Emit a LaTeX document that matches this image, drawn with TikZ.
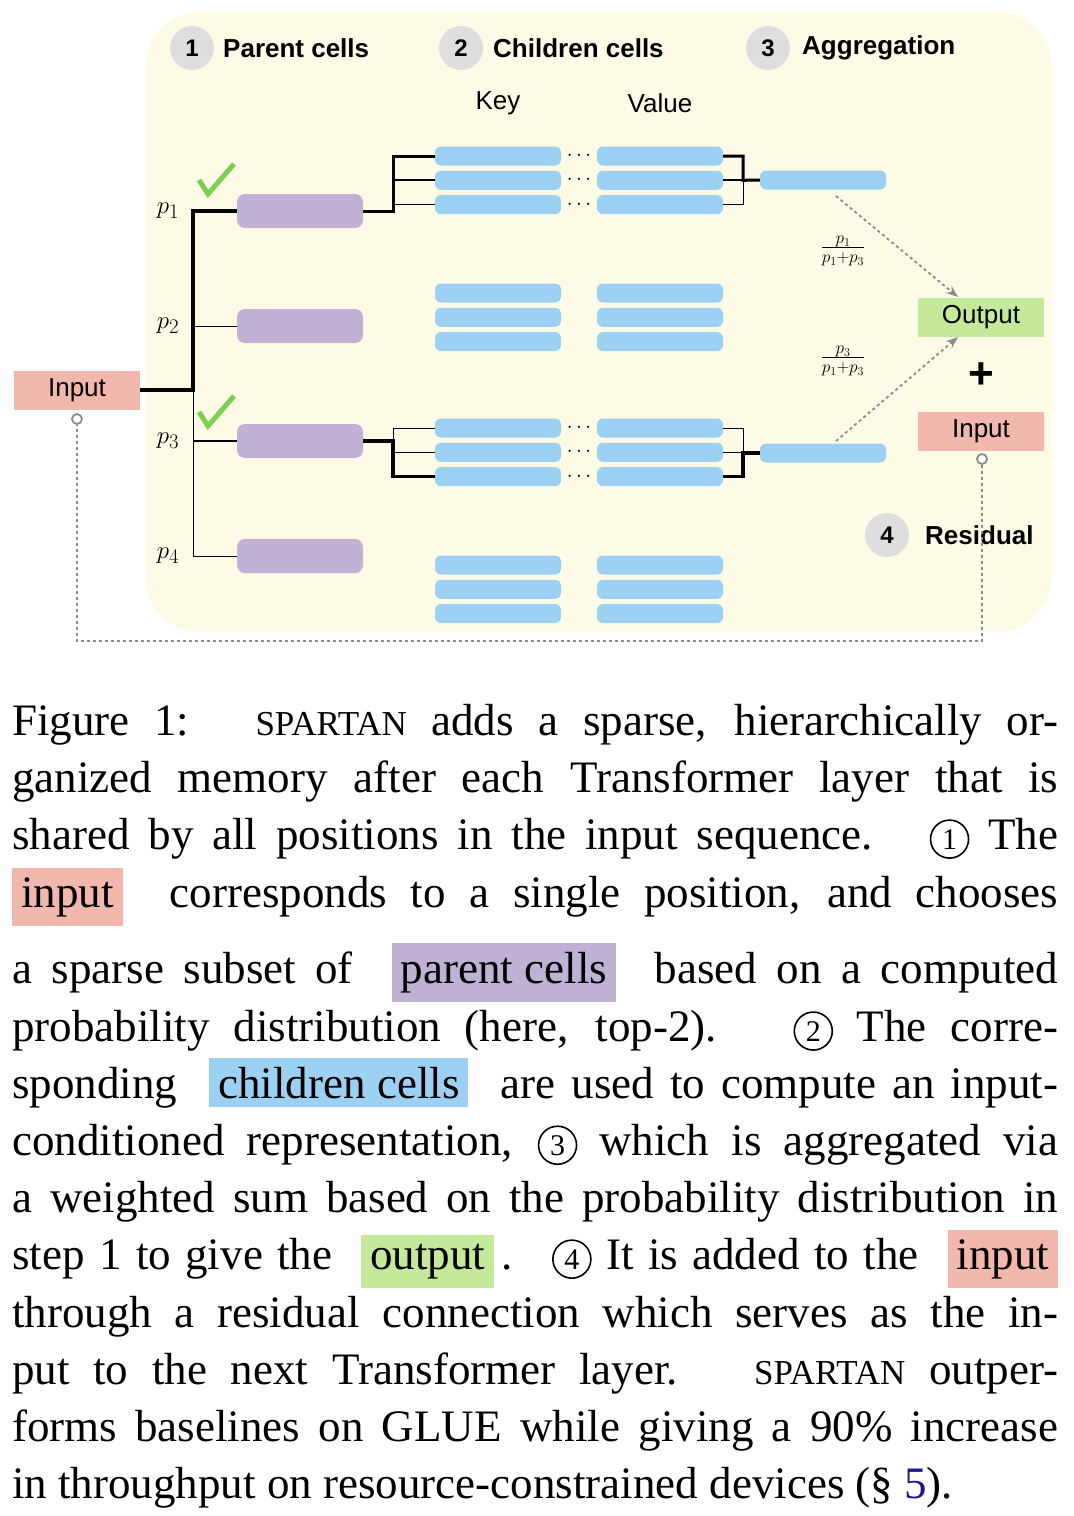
\documentclass[tikz,border=0pt]{standalone}
\usepackage{fontspec}
\setmainfont{Liberation Serif}
\setsansfont{Liberation Sans}
\usetikzlibrary{arrows.meta,calc}
\definecolor{panel}{HTML}{FDFAE6}
\definecolor{salmon}{HTML}{F2B7AD}
\definecolor{lilac}{HTML}{C0B2D4}
\definecolor{sky}{HTML}{9CD1F3}
\definecolor{lime}{HTML}{C4E99B}
\definecolor{chk}{HTML}{7BD050}
\definecolor{navy}{HTML}{1A1A8C}
\newcommand{\circnum}[1]{\tikz[baseline=(c.base)]\node[draw,circle,line width=1.6pt,inner sep=1pt,minimum size=38pt,font=\fontsize{30}{30}\selectfont](c){#1};}
\newcommand{\smc}[1]{{\fontsize{35}{35}\selectfont #1}}
\newcommand{\hl}[2]{{\fboxsep=9pt\colorbox{#1}{#2}}}
\tikzset{
 pbar/.style={fill=lilac,rounded corners=8pt,minimum width=126pt,minimum height=34pt,inner sep=0},
 kbar/.style={fill=sky,rounded corners=6pt,minimum width=126pt,minimum height=19pt,inner sep=0},
 lbl/.style={font=\sffamily\fontsize{26}{26}\selectfont,inner sep=0},
 hdr/.style={font=\sffamily\bfseries\fontsize{26}{26}\selectfont,anchor=west,inner sep=0},
 num/.style={circle,fill=black!13,minimum size=44pt,inner sep=0,font=\sffamily\bfseries\fontsize{24}{24}\selectfont},
 box/.style={minimum width=126pt,minimum height=39pt,inner sep=0,font=\sffamily\fontsize{26}{26}\selectfont},
 pl/.style={font=\fontsize{30}{30}\selectfont},
 captxt/.style={anchor=base west,inner sep=0,font=\fontsize{45}{45}\selectfont},
 dsh/.style={draw=black!45,dashed,line width=1.8pt},
}
\begin{document}
\begin{tikzpicture}[x=1pt,y=-1pt]
\useasboundingbox (0,0) rectangle (1074,1516);
\fill[panel,rounded corners=55pt] (145,12) rectangle (1052,632);
% headers
\node[num] (n1) at (192,48) {1}; \node[hdr] (h1) at (223,48) {Parent cells};
\node[num] (n2) at (461,48) {2}; \node[hdr] (h2) at (493,48) {Children cells};
\node[num] (n3) at (768,48) {3}; \node[hdr] (h3) at (802,48) {Aggregation};
\node[lbl] (key) at (498,103) {Key};
\node[lbl] (val) at (660,103) {Value};
% input
\node[box,fill=salmon] (in) at (77,390) {Input};
% parents
\foreach \i/\y in {1/211,2/326,3/441,4/556}{
  \node[pbar] (p\i) at (300,\y) {};
  \node[pl] (pl\i) at (168,\y) {$p_{\i}$};
}
% tree
\draw[line width=4.5pt] (in.east) -- (193,390);
\draw[line width=4.5pt] (193,392) -- (193,211) -- (p1.west);
\draw[line width=1pt] (193,390) -- (193,556) -- (p4.west);
\draw[line width=1pt] (193,326) -- (p2.west);
\draw[line width=2.2pt] (193,441) -- (p3.west);
% checks
\draw[chk,line width=5pt] (199,180) -- (208,194) -- (234,164);
\draw[chk,line width=5pt] (199,412) -- (208,426) -- (234,396);
% children
\foreach \g/\a in {1/156,2/293,3/428,4/565}{
  \foreach \r in {1,2,3}{
    \node[kbar] (k\g-\r) at (498,{\a+(\r-1)*24.3}) {};
    \node[kbar] (v\g-\r) at (660,{\a+(\r-1)*24.3}) {};
  }
}
\foreach \g in {1,3}{\foreach \r in {1,2,3}{
  \node[inner sep=0,font=\fontsize{22}{22}\selectfont] (d\g-\r) at ($(k\g-\r)!0.5!(v\g-\r)$) {$\cdots$};
}}
% aggregation bars
\node[kbar] (a1) at (823,180) {};
\node[kbar] (a3) at (823,453) {};
% brackets group 1
\draw[line width=3pt] (p1.east) -- (393,211) |- (k1-1.west);
\draw[line width=2pt] (393,180.3) -- (k1-2.west);
\draw[line width=1pt] (393,204.6) -- (k1-3.west);
\draw[line width=3pt] (v1-1.east) -| (743,180.3) -- (a1.west);
\draw[line width=2pt] (v1-2.east) -- (743,180.3);
\draw[line width=1pt] (v1-3.east) -| (743,180.3);
% brackets group 3
\draw[line width=3.5pt] (p3.east) -- (393,441) |- (k3-3.west);
\draw[line width=1.5pt] (393,452.3) -- (k3-2.west);
\draw[line width=1pt] (393,441) |- (k3-1.west);
\draw[line width=3.5pt] (v3-3.east) -| (743,453) -- (a3.west);
\draw[line width=1.5pt] (v3-2.east) -- (743,452.3);
\draw[line width=1pt] (v3-1.east) -| (743,452.3);
% output side
\node[box,fill=lime] (out) at (981,317) {Output};
\node[font=\sffamily\bfseries\fontsize{44}{44}\selectfont,inner sep=0] (plus) at (981,376) {+};
\node[box,fill=salmon] (in2) at (981,431) {Input};
\draw[dsh,-{Stealth[length=12pt,width=9pt]}] (836,196) -- (958,297);
\draw[dsh,-{Stealth[length=12pt,width=9pt]}] (836,441) -- (958,337);
\node[font=\fontsize{25}{25}\selectfont] (f1) at (843,251) {$\frac{p_1}{p_1+p_3}$};
\node[font=\fontsize{25}{25}\selectfont] (f3) at (843,361) {$\frac{p_3}{p_1+p_3}$};
% residual
\node[num] (n4) at (887,535) {4}; \node[hdr] (h4) at (925,535) {Residual};
\node[circle,draw=black!45,fill=white,line width=1.8pt,minimum size=10pt,inner sep=0] (c1) at (77,419) {};
\node[circle,draw=black!45,fill=white,line width=1.8pt,minimum size=10pt,inner sep=0] (c2) at (982,459) {};
\draw[dsh] (c2.south) -- (982,641) -- (77,641) -- (c1.south);
% caption
\node[captxt] at (12,735) {\makebox[1046pt][s]{Figure 1: \ \smc{SPARTAN} adds a sparse, hierarchically or-}};
\node[captxt] at (12,792) {\makebox[1046pt][s]{ganized memory after each Transformer layer that is}};
\node[captxt] at (12,849) {\makebox[1046pt][s]{shared by all positions in the input sequence. \ \circnum{1} The}};
\node[captxt] at (12,907) {\makebox[1046pt][s]{\hl{salmon}{input} \ corresponds to a single position, and chooses}};
\node[captxt] at (12,983) {\makebox[1046pt][s]{a sparse subset of \ \hl{lilac}{parent cells} \ based on a computed}};
\node[captxt] at (12,1041) {\makebox[1046pt][s]{probability distribution (here, top-2). \ \circnum{2} The corre-}};
\node[captxt] at (12,1098) {\makebox[1046pt][s]{sponding \ \hl{sky}{children cells} \ are used to compute an input-}};
\node[captxt] at (12,1155) {\makebox[1046pt][s]{conditioned representation, \circnum{3} which is aggregated via}};
\node[captxt] at (12,1212) {\makebox[1046pt][s]{a weighted sum based on the probability distribution in}};
\node[captxt] at (12,1269) {\makebox[1046pt][s]{step 1 to give the \ \hl{lime}{output}\,. \ \circnum{4} It is added to the \ \hl{salmon}{input}}};
\node[captxt] at (12,1327) {\makebox[1046pt][s]{through a residual connection which serves as the in-}};
\node[captxt] at (12,1384) {\makebox[1046pt][s]{put to the next Transformer layer. \ \smc{SPARTAN} outper-}};
\node[captxt] at (12,1441) {\makebox[1046pt][s]{forms baselines on GLUE while giving a 90\% increase}};
\node[captxt] at (12,1498) {in throughput on resource-constrained devices (\S\ {\color{navy}5}).};
\end{tikzpicture}
\end{document}
